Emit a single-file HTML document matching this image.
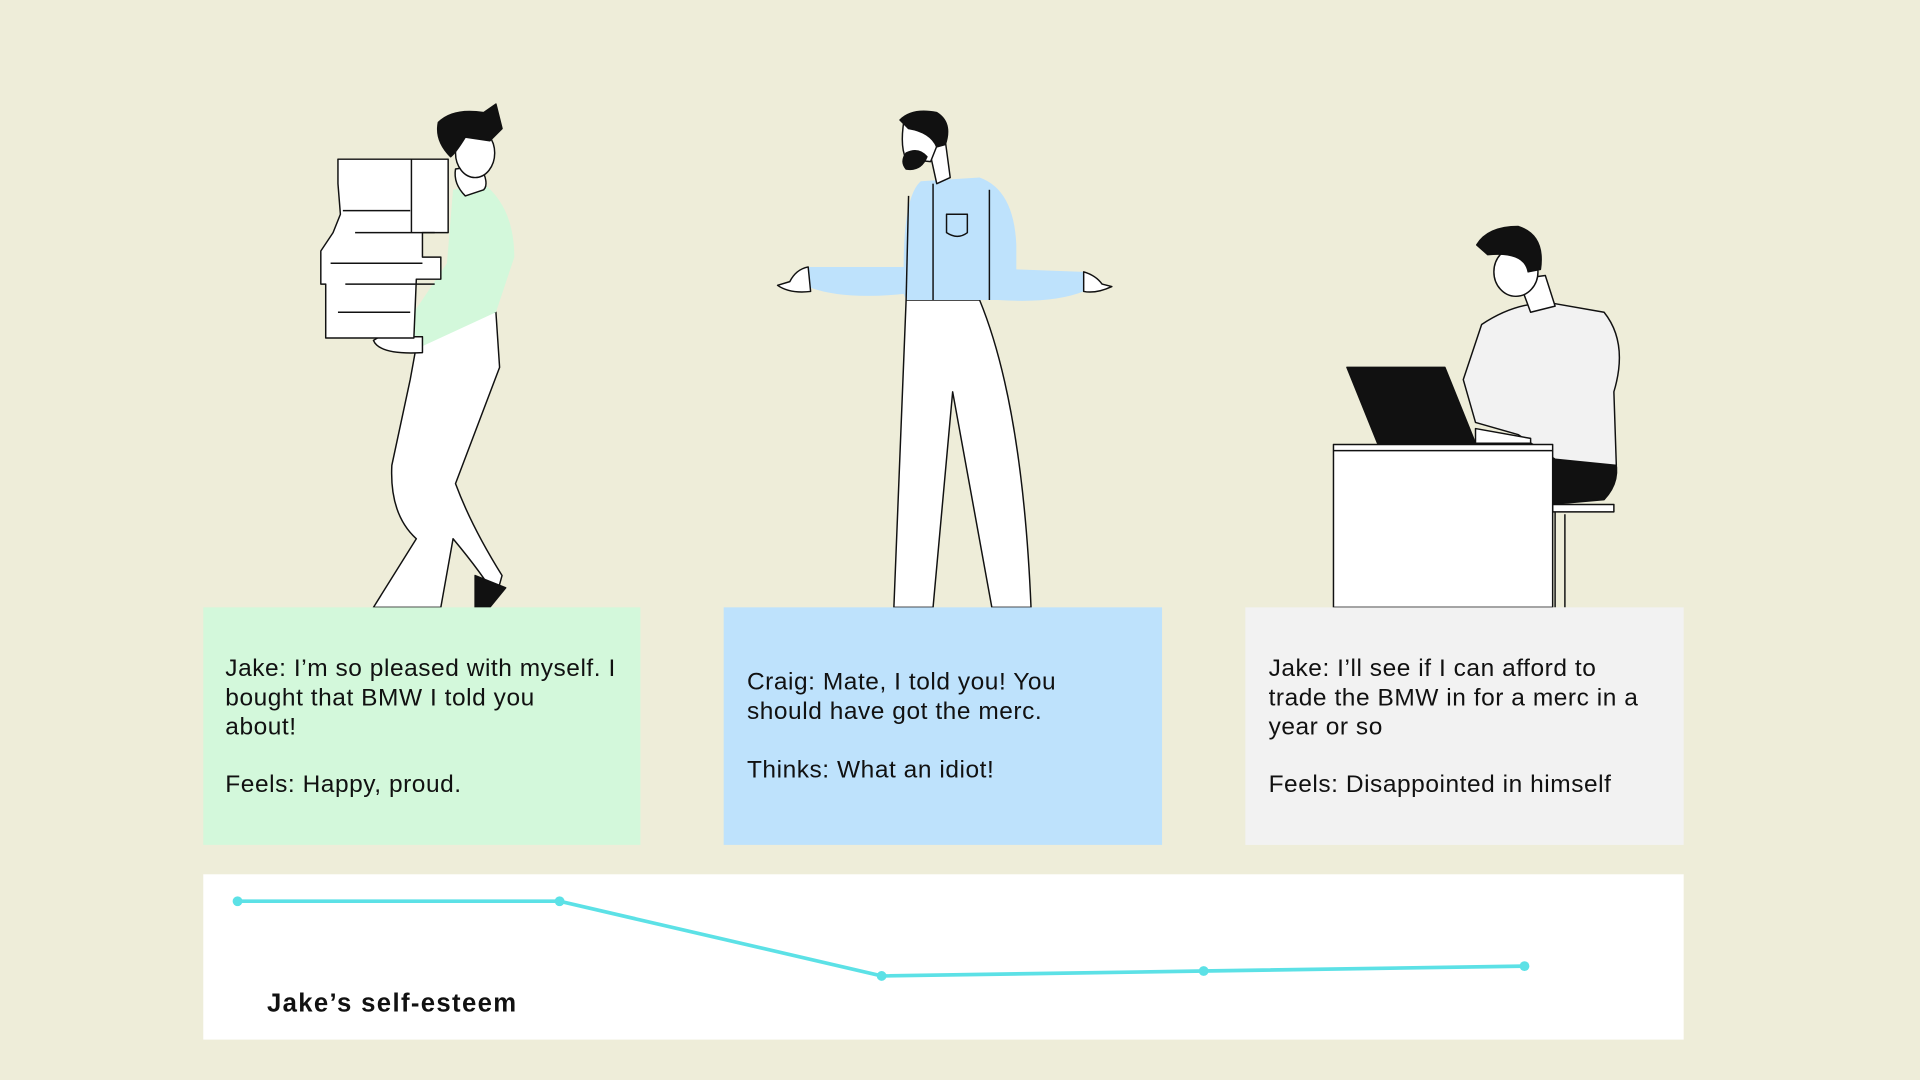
<!DOCTYPE html>
<html><head><meta charset="utf-8"><style>
html,body{margin:0;padding:0;background:#EEEDD9;}
svg{display:block}
text{font-family:"Liberation Sans",sans-serif;fill:#111;}
</style></head><body>
<svg width="1920" height="1080" viewBox="0 0 1568 882" xmlns="http://www.w3.org/2000/svg">
<rect width="1568" height="882" fill="#EEEDD9"/>
<g stroke="#111" stroke-width="1.2" stroke-linejoin="round">
<!-- Figure 1 -->
<path d="M335,310 L320,380 Q318,420 340,440 L305,496 L360,496 L370,440 Q395,470 405,488 L410,470 Q385,430 372,395 L408,300 L405,255 L345,255 Z" fill="#fff"/>
<path d="M388,470 L413,480 L400,496 L388,496 Z" fill="#111"/>
<path d="M370,155 L395,150 Q420,170 420,210 L405,255 L340,285 L328,270 L365,215 Z" fill="#D3F8DB" stroke="none"/>
<path d="M392,135 Q400,150 395,155 L380,160 Q370,150 372,138 Z" fill="#fff"/>
<ellipse cx="388" cy="125" rx="16" ry="20" fill="#fff"/>
<path d="M358,100 Q370,88 395,92 L405,85 L410,105 L400,115 L380,112 Q372,125 368,128 Q355,115 358,100 Z" fill="#111"/>
<path d="M305,278 Q310,290 345,288 L345,275 L310,275 Z" fill="#fff"/>
<path d="M276,130 L366,130 L366,190 L345,190 L345,210 L360,210 L360,228 L340,228 L338,276 L266,276 L266,232 L262,232 L262,205 L272,190 L278,175 L276,150 Z" fill="#fff"/>
<line x1="280" y1="172" x2="335" y2="172"/><line x1="290" y1="190" x2="355" y2="190"/><line x1="270" y1="215" x2="345" y2="215"/><line x1="282" y1="232" x2="355" y2="232"/><line x1="276" y1="255" x2="335" y2="255"/><line x1="336" y1="130" x2="336" y2="190"/>
<!-- Figure 2 -->
<path d="M740,245 L730,496 L762,496 L778,320 L810,496 L842,496 Q835,330 800,245 Z" fill="#fff"/>
<path d="M752,148 L800,145 Q828,155 830,200 L830,220 L885,222 L885,238 Q860,248 815,245 L740,245 L738,240 Q690,245 662,235 L660,218 L738,218 Q738,160 752,148 Z" fill="#BEE2FC" stroke="none"/>
<line x1="762" y1="150" x2="762" y2="245"/><line x1="742" y1="160" x2="740" y2="245"/><line x1="808" y1="155" x2="808" y2="245"/>
<path d="M773,175 L790,175 L790,190 Q782,196 773,190 Z" fill="#BEE2FC"/>
<path d="M660,218 Q650,220 645,230 L635,233 Q645,240 662,238 Z" fill="#fff"/>
<path d="M885,222 Q895,225 900,232 L908,234 Q895,240 885,238 Z" fill="#fff"/>
<path d="M758,118 L772,115 L776,145 L765,150 Z" fill="#fff"/>
<path d="M738,100 Q735,120 740,130 L760,132 L768,112 Z" fill="#fff"/>
<path d="M735,98 Q745,88 765,92 Q778,100 772,118 L765,120 Q760,108 742,105 Z" fill="#111"/>
<path d="M740,125 Q750,120 757,128 Q752,140 740,138 Q735,132 740,125 Z" fill="#111"/>
<!-- Figure 3 -->
<path d="M1270,410 L1270,496 M1278,420 L1278,496" fill="none"/>
<rect x="1268" y="412" width="50" height="6" fill="#fff"/>
<path d="M1265,370 L1318,372 Q1325,392 1310,408 L1265,412 Z" fill="#111"/>
<path d="M1210,265 Q1240,245 1270,248 L1310,255 Q1330,280 1318,320 L1320,380 L1270,375 L1240,355 L1205,345 L1195,310 Z" fill="#F2F2F2"/>
<path d="M1240,228 L1262,225 L1270,250 L1250,255 Z" fill="#fff"/>
<ellipse cx="1238" cy="222" rx="18" ry="20" fill="#fff"/>
<path d="M1206,200 Q1215,185 1240,185 Q1262,192 1258,220 L1248,222 Q1245,205 1215,208 Z" fill="#111"/>
<rect x="1089" y="363" width="179" height="133" fill="#fff"/>
<line x1="1089" y1="368" x2="1268" y2="368"/>
<path d="M1100,300 L1180,300 L1205,362 L1125,362 Z" fill="#111"/>
<path d="M1205,350 L1250,358 L1250,362 L1205,362 Z" fill="#fff"/>
</g>
<!-- Boxes -->
<rect x="166" y="496" width="357" height="194" fill="#D3F8DB"/>
<rect x="591" y="496" width="358" height="194" fill="#BEE2FC"/>
<rect x="1017" y="496" width="358" height="194" fill="#F2F2F2"/>
<g font-size="20" letter-spacing="0.45">
<text x="184" y="552">Jake: I’m so pleased with myself. I</text>
<text x="184" y="576">bought that BMW I told you</text>
<text x="184" y="600">about!</text>
<text x="184" y="647">Feels: Happy, proud.</text>
<text x="610" y="563">Craig: Mate, I told you! You</text>
<text x="610" y="587">should have got the merc.</text>
<text x="610" y="635">Thinks: What an idiot!</text>
<text x="1036" y="552">Jake: I’ll see if I can afford to</text>
<text x="1036" y="576">trade the BMW in for a merc in a</text>
<text x="1036" y="600">year or so</text>
<text x="1036" y="647">Feels: Disappointed in himself</text>
</g>
<rect x="166" y="714" width="1209" height="135" fill="#fff"/>
<polyline points="194,736 457,736 720,797 983,793 1245,789" fill="none" stroke="#5CE1E6" stroke-width="3"/>
<g fill="#5CE1E6"><circle cx="194" cy="736" r="4"/><circle cx="457" cy="736" r="4"/><circle cx="720" cy="797" r="4"/><circle cx="983" cy="793" r="4"/><circle cx="1245" cy="789" r="4"/></g>
<text x="218" y="826" font-size="21" font-weight="bold" letter-spacing="1.1">Jake’s self-esteem</text>
</svg>
</body></html>
